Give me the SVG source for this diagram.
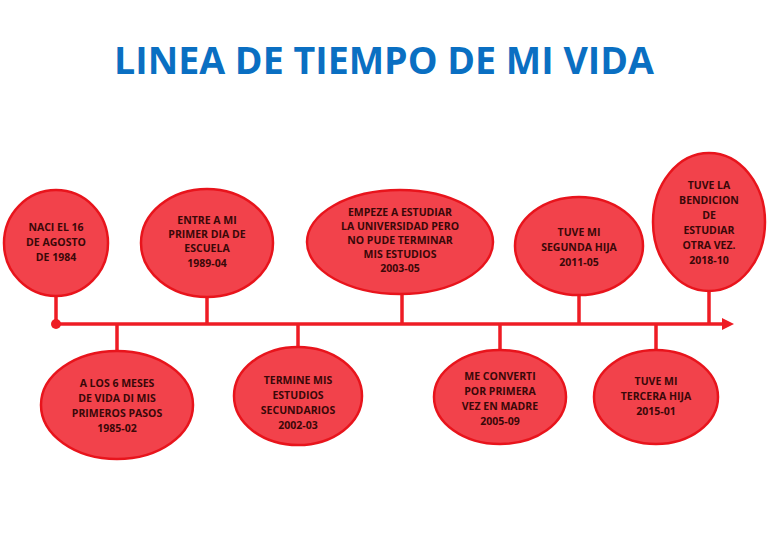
<svg xmlns="http://www.w3.org/2000/svg" width="768" height="543" viewBox="0 0 768 543">
<style>
.n{fill:#f2424b;stroke:#e8141c;stroke-width:2.5}
.t{font-family:"Open Sans","Liberation Sans",sans-serif;font-weight:bold;font-size:10.5px;fill:#3a0808;text-anchor:middle}
.c{stroke:#ee1c24;stroke-width:3.5;fill:none}
</style>
<defs><marker id="a" markerWidth="12" markerHeight="12" refX="8" refY="6" orient="auto" markerUnits="userSpaceOnUse"><path d="M0,0L12,6L0,12z" fill="#ee1c24"/></marker></defs>
<rect width="768" height="543" fill="#fff"/>
<text x="384" y="74" font-family="'Open Sans','Liberation Sans',sans-serif" font-weight="bold" font-size="37" fill="#0a6fc2" text-anchor="middle" textLength="540" lengthAdjust="spacingAndGlyphs">LINEA DE TIEMPO DE MI VIDA</text>
<g id="connectors">
<line class="c" x1="56" y1="324" x2="730" y2="324" marker-end="url(#a)"/>
<circle cx="56" cy="324" r="5" fill="#ee1c24"/>
<path class="c" d="M56 296V324M207 297V324M402 294V324M579 295V324M709 291V324M117 324V351M298 324V347M500 324V349M656 324V349"/>
</g>
<g id="n1"><ellipse class="n" cx="56" cy="243" rx="52" ry="53"/><text class="t"><tspan x="56" y="231">NACI EL 16</tspan><tspan x="56" y="246">DE AGOSTO</tspan><tspan x="56" y="261">DE 1984</tspan></text></g>
<g id="n2"><ellipse class="n" cx="207" cy="243" rx="66" ry="54"/><text class="t"><tspan x="207" y="224">ENTRE A MI</tspan><tspan x="207" y="238">PRIMER DIA DE</tspan><tspan x="207" y="252">ESCUELA</tspan><tspan x="207" y="267">1989-04</tspan></text></g>
<g id="n3"><ellipse class="n" cx="400" cy="242" rx="93" ry="52"/><text class="t"><tspan x="400" y="216">EMPEZE A ESTUDIAR</tspan><tspan x="400" y="230">LA UNIVERSIDAD PERO</tspan><tspan x="400" y="244">NO PUDE TERMINAR</tspan><tspan x="400" y="258">MIS ESTUDIOS</tspan><tspan x="400" y="272">2003-05</tspan></text></g>
<g id="n4"><ellipse class="n" cx="579" cy="246" rx="64" ry="49"/><text class="t"><tspan x="579" y="236">TUVE MI</tspan><tspan x="579" y="251">SEGUNDA HIJA</tspan><tspan x="579" y="266">2011-05</tspan></text></g>
<g id="n5"><ellipse class="n" cx="709" cy="222" rx="56" ry="69"/><text class="t"><tspan x="709" y="189">TUVE LA</tspan><tspan x="709" y="204">BENDICION</tspan><tspan x="709" y="219">DE</tspan><tspan x="709" y="234">ESTUDIAR</tspan><tspan x="709" y="249">OTRA VEZ.</tspan><tspan x="709" y="264">2018-10</tspan></text></g>
<g id="n6"><ellipse class="n" cx="117" cy="405" rx="76" ry="54"/><text class="t"><tspan x="117" y="387">A LOS 6 MESES</tspan><tspan x="117" y="402">DE VIDA DI MIS</tspan><tspan x="117" y="417">PRIMEROS PASOS</tspan><tspan x="117" y="432">1985-02</tspan></text></g>
<g id="n7"><ellipse class="n" cx="298" cy="396" rx="64" ry="49"/><text class="t"><tspan x="298" y="384">TERMINE MIS</tspan><tspan x="298" y="399">ESTUDIOS</tspan><tspan x="298" y="414">SECUNDARIOS</tspan><tspan x="298" y="429">2002-03</tspan></text></g>
<g id="n8"><ellipse class="n" cx="500" cy="397" rx="66" ry="47"/><text class="t"><tspan x="500" y="380">ME CONVERTI</tspan><tspan x="500" y="395">POR PRIMERA</tspan><tspan x="500" y="410">VEZ EN MADRE</tspan><tspan x="500" y="425">2005-09</tspan></text></g>
<g id="n9"><ellipse class="n" cx="656" cy="397" rx="62" ry="47"/><text class="t"><tspan x="656" y="385">TUVE MI</tspan><tspan x="656" y="400">TERCERA HIJA</tspan><tspan x="656" y="415">2015-01</tspan></text></g>
</svg>
